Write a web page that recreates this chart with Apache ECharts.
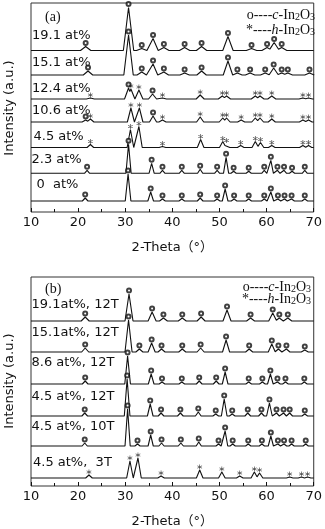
<!DOCTYPE html>
<html>
<head>
<meta charset="utf-8">
<script src="https://cdn.jsdelivr.net/npm/echarts@6/dist/echarts.min.js"></script>
<style>
html, body { margin: 0; padding: 0; background: #fff; }
#xrdChart { width: 325px; height: 529px; }
</style>
</head>
<body>
<div id="xrdChart"></div>
<script>
// 横轴 2θ 范围与刻度
const thetaTicks = [10, 20, 30, 40, 50, 60, 70];

// (a) 各掺杂量样品衍射峰 [2θ, 峰高(a.u.), 标记 o=c-In2O3 *=h-In2O3]
const labelsA = ['19.1 at%', '15.1 at%', '12.4 at%', '10.6 at%', '4.5 at%', '2.3 at%', '0  at%'];
const peaksA191 = [[21.6, 4, 'o'], [30.7, 43, 'o'], [33.5, 2, 'o'], [35.9, 12, 'o'], [38.2, 3, 'o'], [42.6, 3, 'o'], [46.2, 4, 'o'], [51.8, 14, 'o'], [56.8, 2, 'o'], [60.1, 3, 'o'], [61.6, 8, 'o'], [63.2, 3, 'o']];
const peaksA151 = [[22.1, 4, 'o'], [30.7, 40, 'o'], [33.5, 3, 'o'], [35.9, 11, 'o'], [38.2, 3, 'o'], [42.6, 2, 'o'], [46.2, 4, 'o'], [51.8, 14, 'o'], [53.8, 2, 'o'], [56.5, 2, 'o'], [59.7, 2, 'o'], [61.5, 7, 'o'], [63.2, 2, 'o'], [64.5, 2, 'o'], [69.1, 2, 'o']];
const peaksA124 = [[22.6, 1, '*'], [30.7, 11, 'o'], [31.2, 10, '*'], [32.9, 9, '*'], [35.8, 5, 'o'], [37.9, 1, '*'], [45.9, 4, '*'], [50.6, 3, '*'], [51.5, 3, '*'], [57.6, 3, '*'], [58.6, 3, '*'], [61.1, 3, '*'], [67.7, 1, '*'], [68.9, 1, '*']];
const peaksA106 = [[21.6, 2, 'o'], [22.6, 3, '*'], [31.2, 14, '*'], [33.0, 14, '*'], [35.9, 6, 'o'], [37.9, 2, '*'], [45.9, 5, '*'], [50.7, 4, '*'], [51.5, 4, '*'], [54.6, 2, '*'], [57.6, 4, '*'], [58.6, 4, '*'], [61.1, 3, '*'], [67.7, 2, '*'], [68.9, 2, '*']];
const peaksA45 = [[22.6, 3, '*'], [31.1, 18, '*'], [32.9, 21, '*'], [37.9, 1, '*'], [46.0, 8, '*'], [50.7, 6, '*'], [51.5, 4, '*'], [54.5, 2, '*'], [57.6, 6, '*'], [58.7, 5, '*'], [61.1, 2, '*'], [67.7, 2, '*'], [68.9, 2, '*']];
const peaksA23 = [[21.9, 3, 'o'], [30.7, 29, 'o'], [35.6, 10, 'o'], [37.9, 3, 'o'], [42.0, 3, 'o'], [45.9, 4, 'o'], [49.5, 3, 'o'], [51.4, 16, 'o'], [53.0, 2, 'o'], [56.2, 2, 'o'], [59.5, 3, 'o'], [60.9, 13, 'o'], [62.3, 3, 'o'], [63.7, 3, 'o'], [65.4, 2, 'o'], [68.1, 3, 'o']];
const peaksA0 = [[21.5, 3, 'o'], [30.6, 27, 'o'], [35.4, 9, 'o'], [37.9, 2, 'o'], [42.0, 2, 'o'], [45.9, 3, 'o'], [49.5, 2, 'o'], [51.2, 12, 'o'], [53.1, 2, 'o'], [56.2, 2, 'o'], [59.5, 2, 'o'], [60.9, 9, 'o'], [62.4, 2, 'o'], [63.8, 2, 'o'], [65.3, 2, 'o'], [68.1, 2, 'o']];

// (b) 不同磁场强度样品衍射峰
const labelsB = ['19.1at%, 12T', '15.1at%, 12T', '8.6 at%, 12T', '4.5 at%, 12T', '4.5 at%, 10T', '4.5 at%,  3T'];
const peaksB191 = [[21.5, 4, 'o'], [30.8, 27, 'o'], [35.7, 9, 'o'], [38.1, 3, 'o'], [42.1, 3, 'o'], [46.1, 4, 'o'], [51.6, 11, 'o'], [56.6, 3, 'o'], [61.3, 8, 'o'], [62.7, 3, 'o'], [64.5, 3, 'o']];
const peaksB151 = [[21.5, 4, 'o'], [30.7, 32, 'o'], [33.0, 3, 'o'], [35.6, 9, 'o'], [37.7, 3, 'o'], [42.1, 3, 'o'], [46.0, 4, 'o'], [51.4, 12, 'o'], [56.3, 3, 'o'], [61.1, 8, 'o'], [62.5, 3, 'o'], [64.2, 3, 'o'], [68.1, 2, 'o']];
const peaksB86 = [[21.5, 3, 'o'], [30.5, 28, 'o'], [35.5, 10, 'o'], [37.8, 2, 'o'], [42.0, 2, 'o'], [45.7, 3, 'o'], [49.3, 3, 'o'], [51.2, 12, 'o'], [56.2, 2, 'o'], [59.1, 2, 'o'], [60.8, 10, 'o'], [62.3, 2, 'o'], [64.0, 2, 'o'], [68.0, 2, 'o']];
const peaksB12 = [[21.4, 3, 'o'], [30.4, 37, 'o'], [35.3, 12, 'o'], [37.6, 3, 'o'], [41.7, 3, 'o'], [45.5, 4, 'o'], [49.2, 2, 'o'], [51.0, 17, 'o'], [52.7, 2, 'o'], [56.0, 3, 'o'], [58.9, 3, 'o'], [60.6, 13, 'o'], [62.1, 3, 'o'], [63.6, 3, 'o'], [64.9, 3, 'o'], [68.1, 2, 'o']];
const peaksB10 = [[21.4, 3, 'o'], [30.5, 37, 'o'], [32.6, 2, 'o'], [35.4, 11, 'o'], [37.7, 3, 'o'], [41.8, 3, 'o'], [45.6, 4, 'o'], [49.8, 2, 'o'], [51.2, 15, 'o'], [52.8, 2, 'o'], [56.1, 2, 'o'], [59.0, 2, 'o'], [60.9, 10, 'o'], [62.4, 2, 'o'], [63.7, 2, 'o'], [65.3, 2, 'o'], [68.3, 2, 'o']];
const peaksB3 = [[22.3, 3, '*'], [31.0, 17, '*'], [32.7, 20, '*'], [37.6, 2, '*'], [45.8, 8, '*'], [50.5, 6, '*'], [54.3, 2, '*'], [57.4, 6, '*'], [58.5, 5, '*'], [64.9, 1, '*'], [67.4, 1, '*'], [68.7, 1, '*']];

// 每条谱线的基线偏移与峰宽(版面)
const rowsA = [
    { peaks: peaksA191, w: 1.1, base: 161.5, ly: 36 },
    { peaks: peaksA151, w: 1.0, base: 137, ly: 62.5 },
    { peaks: peaksA124, w: 0.85, base: 113, ly: 89 },
    { peaks: peaksA106, w: 0.75, base: 90, ly: 110.5 },
    { peaks: peaksA45, w: 0.7, base: 64.5, ly: 136.5 },
    { peaks: peaksA23, w: 0.55, base: 38.7, ly: 160 },
    { peaks: peaksA0, w: 0.6, base: 11, ly: 185 }
];
const rowsB = [
    { peaks: peaksB191, w: 0.85, base: 165, ly: 305 },
    { peaks: peaksB151, w: 0.75, base: 134, ly: 333 },
    { peaks: peaksB86, w: 0.6, base: 102, ly: 362.5 },
    { peaks: peaksB12, w: 0.6, base: 70, ly: 396.5 },
    { peaks: peaksB10, w: 0.55, base: 40, ly: 426.5 },
    { peaks: peaksB3, w: 0.7, base: 8, ly: 463 }
];

const STAR = 'path://M4.4,0V10H5.6V0Z M0.37,3.02L9.03,8.02L9.63,6.98L0.97,1.98Z M0.97,8.02L9.63,3.02L9.03,1.98L0.37,6.98Z';
const INK = '#111';

document.addEventListener('DOMContentLoaded', function() {
    initXrdChart();
});

// 由峰位/峰高连成折线, 相邻重叠峰取两侧边的交点作谷
function buildLine(peaks, w, base) {
    const pts = [[thetaTicks[0], base]];
    peaks.forEach(function(p, i) {
        const prev = peaks[i - 1];
        if (prev && prev[0] + w > p[0] - w) {
            const s1 = prev[1] / w;
            const s2 = p[1] / w;
            const x = (prev[1] + s1 * prev[0] - p[1] + s2 * p[0]) / (s1 + s2);
            if (x > prev[0] && x < p[0]) {
                pts.push([x, prev[1] - s1 * (x - prev[0]) + base]);
            }
        } else {
            if (prev) pts.push([prev[0] + w, base]);
            pts.push([p[0] - w, base]);
        }
        pts.push([p[0], p[1] + base]);
    });
    const last = peaks[peaks.length - 1];
    pts.push([last[0] + w, base]);
    pts.push([thetaTicks[thetaTicks.length - 1], base]);
    return pts;
}

function makeSeries(rows, idx) {
    const list = [];
    rows.forEach(function(row) {
        list.push({
            type: 'line',
            xAxisIndex: idx,
            yAxisIndex: idx,
            data: buildLine(row.peaks, row.w, row.base),
            showSymbol: false,
            silent: true,
            z: 2,
            lineStyle: { color: INK, width: 1.1 }
        });
        list.push({
            type: 'scatter',
            xAxisIndex: idx,
            yAxisIndex: idx,
            data: row.peaks.filter(p => p[2] === 'o').map(p => [p[0], p[1] + row.base + 3.5]),
            symbol: 'emptyCircle',
            symbolSize: 4,
            silent: true,
            z: 3,
            itemStyle: { color: INK, borderWidth: 0.7 }
        });
        list.push({
            type: 'scatter',
            xAxisIndex: idx,
            yAxisIndex: idx,
            data: row.peaks.filter(p => p[2] === '*').map(p => [p[0], p[1] + row.base + 3]),
            symbol: STAR,
            symbolSize: 5,
            silent: true,
            z: 3,
            itemStyle: { color: INK }
        });
    });
    return list;
}

function xAxisOf(idx) {
    return {
        type: 'value',
        gridIndex: idx,
        min: thetaTicks[0],
        max: thetaTicks[thetaTicks.length - 1],
        interval: thetaTicks[1] - thetaTicks[0],
        name: '2-Theta（°）',
        nameLocation: 'middle',
        nameGap: 29,
        nameTextStyle: { color: INK, fontSize: 13, fontFamily: 'DejaVu Sans, Noto Sans CJK SC' },
        axisLine: { show: false },
        axisTick: { show: true, inside: true, length: 4, lineStyle: { color: INK } },
        minorTick: { show: true, splitNumber: 2, length: 3, lineStyle: { color: INK } },
        splitLine: { show: false },
        axisLabel: { color: INK, fontSize: 13, fontFamily: 'DejaVu Sans', margin: 4 }
    };
}

function yAxisOf(idx) {
    return { type: 'value', gridIndex: idx, min: 0, max: 209, show: false };
}

function legendTexts(x, y1, y2) {
    const rich = {
        t: { fontSize: 14, fontFamily: 'Liberation Serif', lineHeight: 14, verticalAlign: 'top', fill: INK },
        i: { fontSize: 14, fontFamily: 'Liberation Serif', fontStyle: 'italic', lineHeight: 14, verticalAlign: 'top', fill: INK },
        s: { fontSize: 10, fontFamily: 'Liberation Serif', lineHeight: 10, padding: [6, 0, 0, 0], verticalAlign: 'bottom', fill: INK }
    };
    return [
        { type: 'text', x: x, y: y1, style: { text: '{t|o----}{i|c}{t|-In}{s|2}{t|O}{s|3}', rich: rich, align: 'right', verticalAlign: 'middle' } },
        { type: 'text', x: x, y: y2, style: { text: '{t|*----}{i|h}{t|-In}{s|2}{t|O}{s|3}', rich: rich, align: 'right', verticalAlign: 'middle' } }
    ];
}

function rowLabels(rows, labels, xs) {
    return rows.map(function(row, i) {
        return {
            type: 'text',
            x: xs[i],
            y: row.ly,
            style: { text: labels[i], font: '13px DejaVu Sans', fill: INK, verticalAlign: 'middle' }
        };
    });
}

function initXrdChart() {
    const chart = echarts.init(document.getElementById('xrdChart'), null, { renderer: 'canvas' });
    const graphic = [].concat(
        rowLabels(rowsA, labelsA, [32, 32, 32, 32, 33.5, 31.5, 36.5]),
        rowLabels(rowsB, labelsB, [31.5, 31.5, 31.5, 31.5, 31.5, 33]),
        legendTexts(315, 15, 30),
        legendTexts(311, 287, 299),
        [
            { type: 'text', x: 45, y: 17, style: { text: '(a)', font: '14px Liberation Serif', fill: INK, verticalAlign: 'middle' } },
            { type: 'text', x: 45, y: 289, style: { text: '(b)', font: '14px Liberation Serif', fill: INK, verticalAlign: 'middle' } },
            { type: 'text', x: 10, y: 108, rotation: Math.PI / 2, style: { text: 'Intensity (a.u.)', font: '13px DejaVu Sans', fill: INK, align: 'center', verticalAlign: 'middle' } },
            { type: 'text', x: 10, y: 381, rotation: Math.PI / 2, style: { text: 'Intensity (a.u.)', font: '13px DejaVu Sans', fill: INK, align: 'center', verticalAlign: 'middle' } }
        ]
    );
    const option = {
        animation: false,
        backgroundColor: '#fff',
        grid: [
            { left: 31, top: 3, width: 285, height: 209, show: true, borderColor: '#333', borderWidth: 1, backgroundColor: 'transparent' },
            { left: 31, top: 277, width: 285, height: 209, show: true, borderColor: '#333', borderWidth: 1, backgroundColor: 'transparent' }
        ],
        xAxis: [xAxisOf(0), xAxisOf(1)],
        yAxis: [yAxisOf(0), yAxisOf(1)],
        series: makeSeries(rowsA, 0).concat(makeSeries(rowsB, 1)),
        graphic: graphic
    };
    chart.setOption(option);
}
</script>
</body>
</html>
